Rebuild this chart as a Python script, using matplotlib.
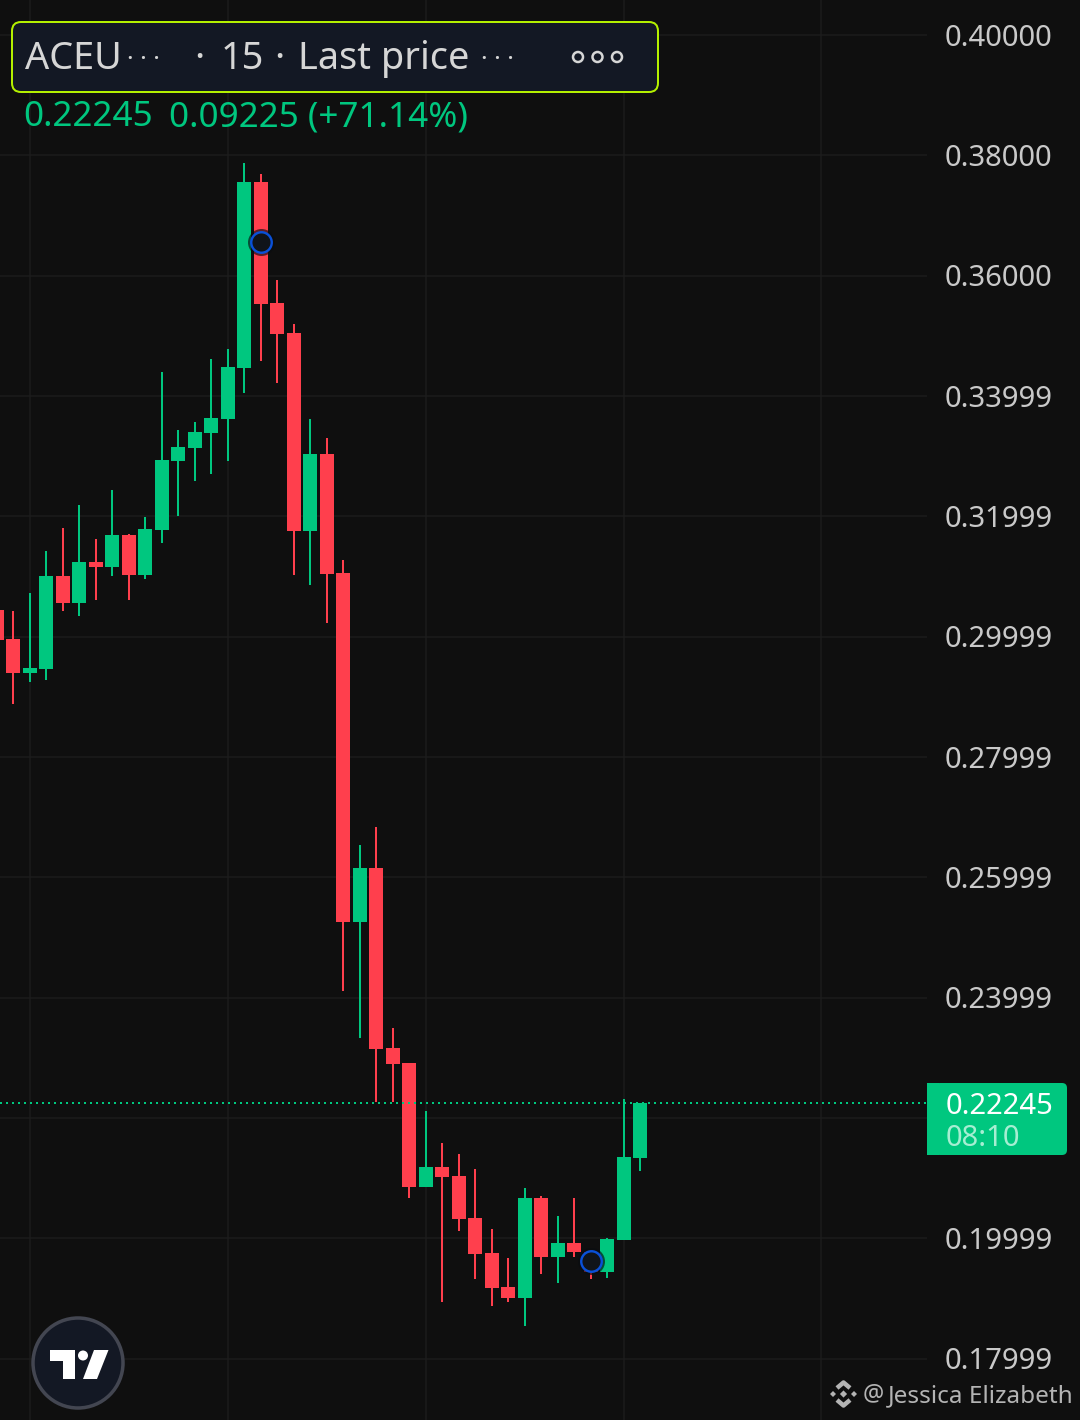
import matplotlib
matplotlib.use("Agg")
import matplotlib.pyplot as plt
from matplotlib.patches import FancyBboxPatch, Circle, Polygon, Rectangle
from matplotlib.transforms import ScaledTranslation

plt.rcParams['font.family'] = ['Noto Sans', 'DejaVu Sans']

# ---- data ----
opens = [.30442, .29960, .29395, .29462, .31008, .30559, .31240, .31157, .31689, .31024,
         .31772, .32919, .33135, .33385, .33617, .34465, .37557, .35545, .35047, .31755,
         .33035, .31057, .25256, .26154, .23162, .22913, .20851, .21184, .21034, .20336,
         .19754, .19189, .19006, .20669, .19688, .19921, .19771, .19439, .19971, .21333]
highs = [.30526, .30426, .30725, .31423, .31805, .32188, .31623, .32437, .31706, .31988,
         .34398, .33434, .33567, .34615, .34781, .37872, .37690, .35928, .35196, .33617,
         .33301, .31273, .26536, .26835, .23494, .22913, .22115, .21583, .21400, .21151,
         .20153, .19671, .20835, .20702, .20369, .20669, .19771, .20004, .22314, .22248]
lows = [.29861, .28880, .29246, .29279, .30426, .30343, .30609, .31008, .30609, .30958,
        .31556, .32005, .32587, .32703, .32919, .34049, .34581, .34216, .31024, .30858,
        .30226, .24109, .23328, .22264, .22264, .20669, .20851, .18940, .20120, .19322,
        .18874, .18940, .18541, .19405, .19256, .19688, .19322, .19339, .19971, .21117]
closes = [.29944, .29395, .29478, .31008, .30559, .31240, .31157, .31689, .31024, .31789,
          .32936, .33152, .33401, .33634, .34481, .37557, .35529, .35030, .31755, .33035,
          .31041, .25256, .26154, .23145, .22896, .20851, .21184, .21018, .20320, .19738,
          .19173, .19006, .20669, .19688, .19921, .19771, .19439, .19987, .21350, .22245]
marker_bars = [16, 36]
marker_prices = [.36559, .19621]
price_ticks = [.40, .38, .36, .34, .32, .30, .28, .26, .24, .22, .20, .18]
price_labels = ['0.40000', '0.38000', '0.36000', '0.33999', '0.31999', '0.29999',
                '0.27999', '0.25999', '0.23999', '', '0.19999', '0.17999']
time_ticks = [2, 14, 26, 38, 50]
last_price = 0.22245

BG = '#0f0f0f'
GRID = '#1c1c1c'
UP = '#00c77f'
DOWN = '#ff3f4d'
TXT = '#c9c9c9'
BLUE = '#0a50d8'
PX = 72 / 100  # one pixel in points

fig = plt.figure(figsize=(10.8, 14.2), dpi=100, facecolor=BG)
W, H = 1080, 1420
ax = fig.add_axes([0, 0, 927 / W, 1], facecolor=BG)
ax.set_xlim(3 / 16.487, 930 / 16.487)
ax.set_ylim(0.405818 - 0.00016622 * H, 0.405818)
for s in ax.spines.values():
    s.set_visible(False)
ax.yaxis.tick_right()
ax.set_yticks(price_ticks)
ax.set_yticklabels(price_labels, fontsize=21, color=TXT)
ax.set_xticks(time_ticks)
ax.set_xticklabels([])
ax.tick_params(axis='both', length=0)
ax.tick_params(axis='y', pad=18 * PX)
ax.grid(True, color=GRID, lw=1.5 * PX, zorder=0)
ax.set_axisbelow(True)
for lab in ax.get_yticklabels():
    lab.set_transform(lab.get_transform() + ScaledTranslation(0, 0.4 / 100, fig.dpi_scale_trans))

xs = list(range(len(opens)))
colors = [UP if c >= o else DOWN for o, c in zip(opens, closes)]
ax.vlines(xs, lows, highs, colors=colors, lw=2 * PX, zorder=2)
ax.bar(xs, [abs(c - o) for o, c in zip(opens, closes)],
       bottom=[min(o, c) for o, c in zip(opens, closes)],
       width=14 / 16.487, color=colors, linewidth=0, zorder=3)
ax.axhline(last_price, color=UP, lw=2 * PX, ls=(0, (1, 2)), zorder=4)
ax.scatter(marker_bars, marker_prices, s=(27 * PX) ** 2, color='#0a0c10', alpha=0.65, linewidths=0, zorder=5)
ax.scatter(marker_bars, marker_prices, s=(20.5 * PX) ** 2, facecolor='#10141a', edgecolor=BLUE,
           linewidths=2.4 * PX, zorder=6)

# ---- overlay in pixel coordinates ----
ov = fig.add_axes([0, 0, 1, 1], facecolor='none')
ov.set_xlim(0, W)
ov.set_ylim(H, 0)
ov.axis('off')

# header box
HEAD = '#d6d6d6'
ov.add_patch(FancyBboxPatch((12, 22), 646, 70, boxstyle='round,pad=0,rounding_size=9',
                            fc='#131824', ec='#b4f000', lw=2 * PX))
ov.text(25, 69, 'ACEU', fontsize=27.3, color=HEAD, va='baseline')
ov.text(127, 59, '· · ·', fontsize=18, color=HEAD, va='center')
ov.text(194, 69, '·', fontsize=27.3, color=HEAD, va='baseline')
ov.text(221, 69, '15', fontsize=27.3, color=HEAD, va='baseline')
ov.text(274, 69, '·', fontsize=27.3, color=HEAD, va='baseline')
ov.text(298, 69, 'Last price', fontsize=27.3, color=HEAD, va='baseline')
ov.text(481, 59, '· · ·', fontsize=18, color=HEAD, va='center')
for cx in (578, 597.5, 617):
    ov.add_patch(Circle((cx, 57), 5, fc='none', ec=HEAD, lw=2.5 * PX))
ov.text(23, 126, '0.22245', fontsize=25.2, color=UP, va='baseline')
ov.text(169, 126, '0.09225 (+71.14%)', fontsize=25.2, color=UP, va='baseline')

# last price tag
ov.add_patch(FancyBboxPatch((935, 1083), 132, 72, boxstyle='round,pad=0,rounding_size=5',
                            fc=UP, ec='none'))
ov.add_patch(Rectangle((927, 1083), 12, 72, fc=UP, ec='none'))
ov.text(946, 1114, '0.22245', fontsize=21, color='#ffffff', va='baseline')
ov.text(946, 1146, '08:10', fontsize=21, color='#a6eed2', va='baseline')

# logo
ov.add_patch(Circle((78, 1363), 45, fc='#131824', ec='#434651', lw=3.5 * PX))
ov.add_patch(Polygon([(50, 1350), (75, 1350), (75, 1379), (63, 1379), (63, 1361), (50, 1361)], fc='white', ec='none'))
ov.add_patch(Circle((83, 1355.5), 5, fc='white', ec='none'))
ov.add_patch(Polygon([(94, 1350), (108.5, 1350), (97, 1379), (83, 1379)], fc='white', ec='none'))

# watermark
WM = '#b4b4b4'
ov.text(863, 1400, '@', fontsize=17, color=WM, va='baseline')
ov.text(888, 1402, 'Jessica Elizabeth', fontsize=17.5, color=WM, va='baseline')
bx, by = 843.5, 1394
for dx, r in ((-10.5, 3), (0, 3.6), (10.5, 3)):
    ov.add_patch(Polygon([(bx + dx - r, by), (bx + dx, by - r), (bx + dx + r, by), (bx + dx, by + r)], fc=WM, ec='none'))
ov.plot([bx - 6.5, bx, bx + 6.5], [by - 6, by - 11.5, by - 6], color=WM, lw=4.5 * PX, solid_capstyle='butt')
ov.plot([bx - 6.5, bx, bx + 6.5], [by + 6, by + 11.5, by + 6], color=WM, lw=4.5 * PX, solid_capstyle='butt')

fig.savefig('out.png', dpi=100, facecolor=BG)
